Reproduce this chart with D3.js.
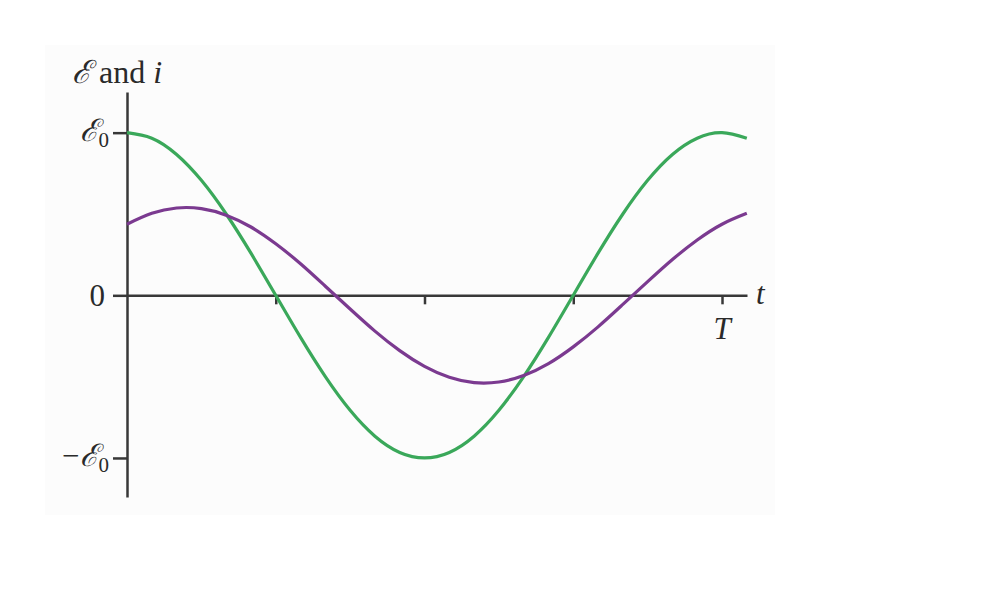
<!DOCTYPE html>
<html>
<head>
<meta charset="utf-8">
<script src="https://cdn.jsdelivr.net/npm/d3@7"></script>
<style>
  body { margin: 0; background: #fff; }
  svg text { font-family: "Liberation Serif", "DejaVu Serif", serif; fill: #2a2a2a; }
</style>
</head>
<body>
<div id="chart"></div>
<script>
// time samples, in units of the period T (every T/24)
const times = [0, 1/24, 2/24, 3/24, 4/24, 5/24, 6/24, 7/24, 8/24, 9/24, 10/24, 11/24, 12/24,
    13/24, 14/24, 15/24, 16/24, 17/24, 18/24, 19/24, 20/24, 21/24, 22/24, 23/24, 24/24, 25/24];
// emf, in units of E0 (green)
const emfValues = [1.000, 0.966, 0.866, 0.707, 0.500, 0.259, 0.000, -0.259, -0.500, -0.707, -0.866, -0.966, -1.000,
    -0.966, -0.866, -0.707, -0.500, -0.259, 0.000, 0.259, 0.500, 0.707, 0.866, 0.966, 1.000, 0.966];
// current (purple)
const currentValues = [0.437, 0.504, 0.537, 0.533, 0.493, 0.420, 0.317, 0.194, 0.056, -0.084, -0.220, -0.340, -0.437,
    -0.504, -0.537, -0.533, -0.493, -0.420, -0.317, -0.194, -0.056, 0.084, 0.220, 0.340, 0.437, 0.504];
const xTicks = [0.25, 0.5, 0.75, 1];
const yTicks = [-1, 0, 1];

const width = 998, height = 592;

const svg = d3.select("#chart").append("svg")
    .attr("width", width)
    .attr("height", height);

// faint scan panel behind the figure
svg.append("rect")
    .attr("x", 45).attr("y", 45)
    .attr("width", 730).attr("height", 470)
    .attr("fill", "#fcfcfc");

const xScale = d3.scaleLinear().domain([0, 1.042]).range([127, 747]);
const yScale = d3.scaleLinear().domain([-1.24, 1.25]).range([497, 92]);

const axisColor = "#383838";

// y axis
const yAxis = svg.append("g")
    .attr("transform", `translate(${xScale(0)},0)`)
    .call(d3.axisLeft(yScale).tickValues(yTicks).tickSize(14).tickSizeOuter(0).tickFormat(""));
yAxis.select(".domain").attr("stroke", axisColor).attr("stroke-width", 2.5);
yAxis.selectAll(".tick line").attr("stroke", axisColor).attr("stroke-width", 2.5);

// x axis
const xAxis = svg.append("g")
    .attr("transform", `translate(0,${yScale(0)})`)
    .call(d3.axisBottom(xScale).tickValues(xTicks).tickSize(9).tickSizeOuter(0).tickFormat(""));
xAxis.select(".domain").attr("stroke", axisColor).attr("stroke-width", 2.5);
xAxis.selectAll(".tick line").attr("stroke", axisColor).attr("stroke-width", 2.5);

// curves
const line = d3.line()
    .x((d, i) => xScale(times[i]))
    .y(d => yScale(d))
    .curve(d3.curveNatural);

svg.append("path")
    .datum(emfValues)
    .attr("d", line)
    .attr("fill", "none")
    .attr("stroke", "#3aa85a")
    .attr("stroke-width", 3.2);

svg.append("path")
    .datum(currentValues)
    .attr("d", line)
    .attr("fill", "none")
    .attr("stroke", "#7b3a90")
    .attr("stroke-width", 3.2);

// labels
const title = svg.append("text")
    .attr("x", 72).attr("y", 83)
    .attr("font-size", 32);
title.append("tspan").attr("font-style", "italic").text("ℰ");
title.append("tspan").text(" and ");
title.append("tspan").attr("font-style", "italic").text("i");

function emfLabel(y, prefix) {
    const t = svg.append("text")
        .attr("x", 109).attr("y", y + 8)
        .attr("text-anchor", "end")
        .attr("font-size", 31);
    if (prefix) t.append("tspan").text(prefix);
    t.append("tspan").attr("font-style", "italic").text("ℰ");
    t.append("tspan").attr("font-size", 21).attr("dy", 6).text("0");
}
emfLabel(yScale(1), "");
emfLabel(yScale(-1), "−");

svg.append("text")
    .attr("x", 105).attr("y", yScale(0) + 11)
    .attr("text-anchor", "end")
    .attr("font-size", 31)
    .text("0");

svg.append("text")
    .attr("x", 756).attr("y", yScale(0) + 9)
    .attr("font-size", 31)
    .attr("font-style", "italic")
    .text("t");

svg.append("text")
    .attr("x", xScale(1)).attr("y", 339)
    .attr("text-anchor", "middle")
    .attr("font-size", 31)
    .attr("font-style", "italic")
    .text("T");
</script>
</body>
</html>
